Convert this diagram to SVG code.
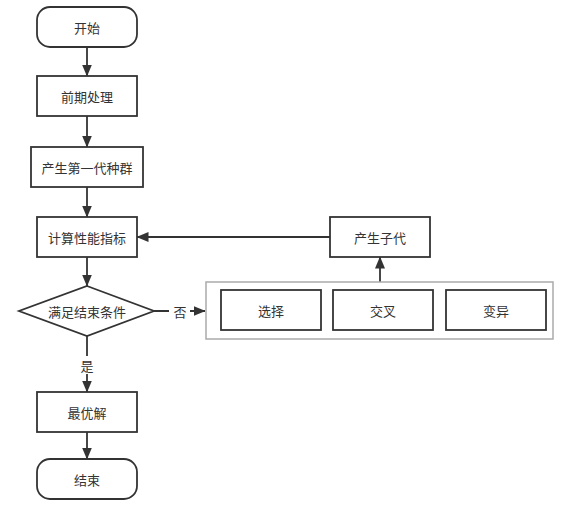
<svg xmlns="http://www.w3.org/2000/svg" width="570" height="509" viewBox="0 0 570 509">
<defs>
<marker id="arr" markerWidth="12" markerHeight="10" refX="11.5" refY="5" orient="auto" markerUnits="userSpaceOnUse">
<path d="M0,0 L12,5 L0,10 Z" fill="#333"/>
</marker>
<style>
.n{fill:#fff;stroke:#333;stroke-width:1.8}
.t{font-family:"Noto Sans CJK SC","Liberation Sans",sans-serif;font-size:13px;fill:#333;text-anchor:middle;dominant-baseline:central}
.c{fill:none;stroke:#333;stroke-width:1.8;marker-end:url(#arr)}
</style>
</defs>
<rect width="570" height="509" fill="#fff"/>
<g id="connectors">
<line class="c" x1="87" y1="47" x2="87" y2="76"/>
<line class="c" x1="87" y1="116" x2="87" y2="147"/>
<line class="c" x1="87" y1="187" x2="87" y2="217"/>
<line class="c" x1="87" y1="257" x2="87" y2="286"/>
<line class="c" x1="330" y1="237" x2="137" y2="237"/>
<line class="c" x1="380" y1="282" x2="380" y2="257"/>
<path class="c" d="M154,311 H205"/>
<path class="c" d="M87,336 V392"/>
<line class="c" x1="87" y1="432" x2="87" y2="459"/>
<rect x="169" y="302" width="21" height="18" fill="#fff"/>
<text class="t" x="180" y="311">否</text>
<rect x="78" y="356" width="18" height="18" fill="#fff"/>
<text class="t" x="87" y="365">是</text>
</g>
<g id="start"><rect class="n" x="37" y="7" width="100" height="40" rx="13"/><text class="t" x="87" y="27">开始</text></g>
<g id="pre"><rect class="n" x="37" y="76" width="100" height="40"/><text class="t" x="87" y="96">前期处理</text></g>
<g id="init"><rect class="n" x="31" y="147" width="112" height="40"/><text class="t" x="87" y="167">产生第一代种群</text></g>
<g id="eval"><rect class="n" x="37" y="217" width="100" height="40"/><text class="t" x="87" y="237">计算性能指标</text></g>
<g id="cond"><polygon class="n" points="87,286 154,311 87,336 19,311"/><text class="t" x="87" y="311">满足结束条件</text></g>
<g id="ops"><rect x="206" y="282" width="347" height="57" fill="#fff" stroke="#aaa" stroke-width="1.5"/></g>
<g id="sel"><rect class="n" x="221" y="290" width="100" height="40"/><text class="t" x="271" y="310">选择</text></g>
<g id="cross"><rect class="n" x="333" y="290" width="100" height="40"/><text class="t" x="383" y="310">交叉</text></g>
<g id="mut"><rect class="n" x="446" y="290" width="100" height="40"/><text class="t" x="496" y="310">变异</text></g>
<g id="child"><rect class="n" x="330" y="217" width="100" height="40"/><text class="t" x="380" y="237">产生子代</text></g>
<g id="best"><rect class="n" x="37" y="392" width="100" height="40"/><text class="t" x="87" y="412">最优解</text></g>
<g id="end"><rect class="n" x="37" y="459" width="100" height="40" rx="13"/><text class="t" x="87" y="479">结束</text></g>
</svg>
